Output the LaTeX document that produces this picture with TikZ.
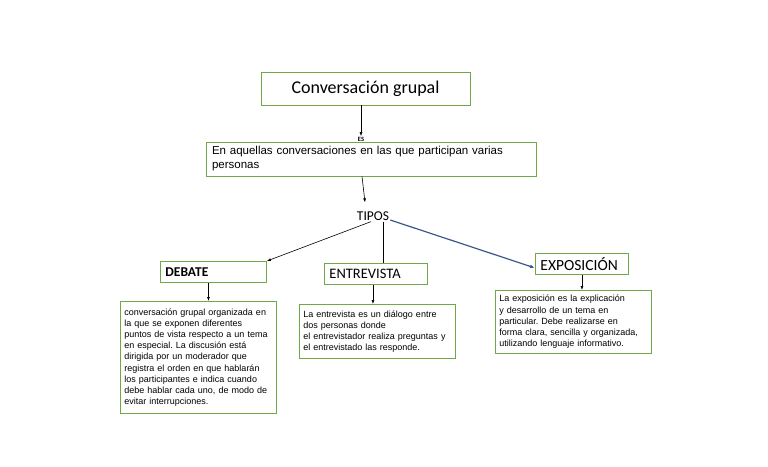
\documentclass[tikz,border=0pt]{standalone}
\usepackage{fontspec}
\setmainfont{Liberation Sans}
\newfontfamily\calib{Carlito}
\usepackage{xcolor}
\usetikzlibrary{positioning,arrows.meta,calc}
\definecolor{boxgreen}{RGB}{112,168,72}
\definecolor{linkblue}{RGB}{58,88,138}
\frenchspacing

\begin{document}
\begin{tikzpicture}[
    x=1pt, y=-1pt,
    box/.style={draw=boxgreen, line width=0.9pt, inner sep=0pt,
      align=center},
    head/.style={draw=boxgreen, line width=0.9pt, inner xsep=5pt,
      inner ysep=0pt, align=left, anchor=north west, font=\calib},
    desc/.style={draw=boxgreen, line width=0.9pt, inner xsep=4pt,
      inner ysep=4pt, align=left, anchor=north west,
      font=\fontsize{9}{11.2}\selectfont},
    arr/.style={-{Latex[length=4pt,width=3pt]}, line width=0.6pt},
    barr/.style={-{Latex[length=5pt,width=3.5pt]}, line width=1.2pt,
      linkblue}
]
\useasboundingbox (0,0) rectangle (768,466);
\node[box, minimum width=209, minimum height=33,
      font=\calib\fontsize{18}{20}\selectfont] (title) at (365.5,88.5)
  {Conversación grupal};
\node[font=\calib\bfseries\fontsize{6.5}{7}\selectfont, inner sep=0.5pt]
  (es) at (361,139) {ES};
\node[box, minimum width=330, minimum height=34, text width=318,
      align=left, font=\fontsize{11.5}{14}\selectfont] (def) at (371,159)
  {En aquellas conversaciones en las que participan varias\\personas};
\node[font=\calib\fontsize{13.5}{15}\selectfont, inner sep=1pt]
  (tipos) at (373,216) {TIPOS};
\node[head, text width=96, minimum height=21,
      font=\calib\bfseries\fontsize{13.5}{15}\selectfont] (debate) at (160,261)
  {DEBATE};
\node[head, text width=93, minimum height=21,
      font=\calib\fontsize{14.5}{16}\selectfont] (entre) at (324,263)
  {ENTREVISTA};
\node[head, text width=83, minimum height=21,
      font=\calib\fontsize{15.5}{17}\selectfont] (expo) at (535,253)
  {EXPOSICIÓN};
\node[desc, text width=148, minimum height=112] (ddeb) at (120,301)
  {conversación grupal organizada en\\
   la que se exponen diferentes\\
   puntos de vista respecto a un tema\\
   en especial. La discusión está\\
   dirigida por un moderador que\\
   registra el orden en que hablarán\\
   los participantes e indica cuando\\
   debe hablar cada uno, de modo de\\
   evitar interrupciones.};
\node[desc, text width=148, minimum height=54] (dent) at (299,304)
  {La entrevista es un diálogo entre\\
   dos personas donde\\
   el entrevistador realiza preguntas y\\
   el entrevistado las responde.};
\node[desc, text width=148, minimum height=63] (dexp) at (495,290)
  {La exposición es la explicación\\
   y desarrollo de un tema en\\
   particular. Debe realizarse en\\
   forma clara, sencilla y organizada,\\
   utilizando lenguaje informativo.};
\draw[arr] (title.south -| es) -- (es.north);
\draw[arr] ([xshift=-9pt]def.south) -- ([xshift=-8pt,yshift=8pt]tipos.north);
\draw[arr] ([xshift=-2pt]tipos.south) -- (debate.north east);
\draw[line width=0.6pt] ([xshift=10pt]tipos.south)
  -- ([xshift=10pt]tipos.south |- entre.north);
\draw[barr] ([yshift=-4pt]tipos.east) -- ([yshift=-4pt]expo.west);
\draw[arr] ([xshift=-5pt]debate.south) -- ([xshift=-5pt]debate.south |- ddeb.north);
\draw[arr] ([xshift=-3pt]entre.south) -- ([xshift=-3pt]entre.south |- dent.north);
\draw[arr] (expo.south) -- (expo.south |- dexp.north);
\end{tikzpicture}
\end{document}
